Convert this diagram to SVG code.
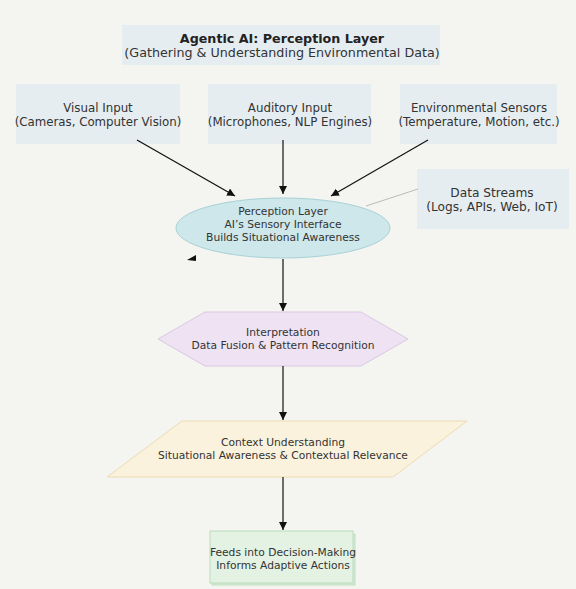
<svg xmlns="http://www.w3.org/2000/svg" width="576" height="589" viewBox="0 0 576 589">
<defs>
<marker id="ah" viewBox="0 0 10 10" refX="10" refY="5" markerWidth="8" markerHeight="8" markerUnits="userSpaceOnUse" orient="auto">
<path d="M0,0 L10,5 L0,10 z" fill="#111"/>
</marker>
<style>
text{font-family:"DejaVu Sans",Verdana,sans-serif;font-size:10.7px;fill:#333;text-anchor:middle}
.t{font-weight:bold;font-size:12.7px;fill:#222}
.st{font-size:12.7px}
.in{font-size:11.8px}
.ds{font-size:12.2px}
.box{fill:#e6edf0}
.c{stroke:#111;stroke-width:1.2;fill:none;marker-end:url(#ah)}
</style>
</defs>
<rect width="576" height="589" fill="#f4f4f0"/>
<g id="title">
<rect class="box" x="122" y="25" width="318" height="40"/>
<text class="t" x="282" y="43">Agentic AI: Perception Layer</text>
<text class="st" x="282" y="57">(Gathering &amp; Understanding Environmental Data)</text>
</g>
<g id="visual">
<rect class="box" x="16" y="84" width="164" height="60"/>
<text class="in" x="98" y="112">Visual Input</text>
<text class="in" x="98" y="126">(Cameras, Computer Vision)</text>
</g>
<g id="auditory">
<rect class="box" x="208" y="84" width="163" height="60"/>
<text class="in" x="290" y="112">Auditory Input</text>
<text class="in" x="290" y="126">(Microphones, NLP Engines)</text>
</g>
<g id="env">
<rect class="box" x="400" y="84" width="157" height="60"/>
<text class="in" x="479" y="112">Environmental Sensors</text>
<text class="in" x="479" y="126">(Temperature, Motion, etc.)</text>
</g>
<g id="streams">
<rect class="box" x="417" y="169" width="152" height="60"/>
<text class="ds" x="492" y="197">Data Streams</text>
<text class="ds" x="492" y="211">(Logs, APIs, Web, IoT)</text>
</g>
<g id="perception">
<ellipse cx="283" cy="228" rx="107" ry="30" fill="#cde7ea" stroke="#a9d2d6"/>
<text x="283" y="215">Perception Layer</text>
<text x="283" y="228">AI’s Sensory Interface</text>
<text x="283" y="241">Builds Situational Awareness</text>
</g>
<g id="interpretation">
<polygon points="158,339 205,312 361,312 408,339 361,366 205,366" fill="#eee2f3" stroke="#dac8e2"/>
<text x="283" y="336">Interpretation</text>
<text x="283" y="349">Data Fusion &amp; Pattern Recognition</text>
</g>
<g id="context">
<polygon points="182,421 467,421 393,477 107,477" fill="#faf2dc" stroke="#ecdcb2"/>
<text x="283" y="446">Context Understanding</text>
<text x="283" y="459">Situational Awareness &amp; Contextual Relevance</text>
</g>
<g id="decision">
<rect x="212" y="534" width="143" height="51" fill="#d6ebd6" stroke="#c0dfc0"/>
<rect x="210" y="531" width="143" height="52" fill="#e3f2e3" stroke="#b9dcb9"/>
<text x="283" y="556">Feeds into Decision-Making</text>
<text x="283" y="569">Informs Adaptive Actions</text>
</g>
<g id="connectors">
<line class="c" x1="137" y1="140" x2="235" y2="196"/>
<line class="c" x1="283" y1="140" x2="283" y2="194"/>
<line class="c" x1="428" y1="140" x2="331" y2="196"/>
<line x1="366" y1="206" x2="418" y2="189" stroke="#bbb" stroke-width="1"/>
<polygon points="187,260 196,255 196,261" fill="#111"/>
<line class="c" x1="283" y1="259" x2="283" y2="311"/>
<line class="c" x1="283" y1="366" x2="283" y2="420"/>
<line class="c" x1="283" y1="477" x2="283" y2="530"/>
</g>
</svg>
